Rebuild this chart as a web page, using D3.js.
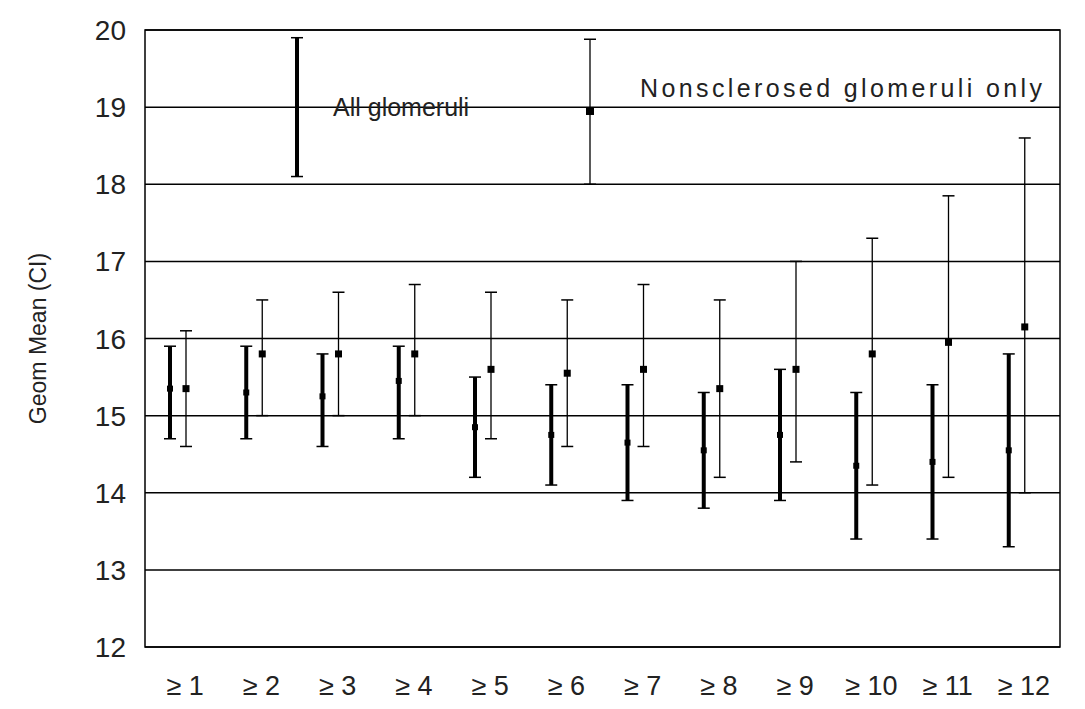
<!DOCTYPE html><html><head><script src="https://d3js.org/d3.v7.min.js"></script>
<style>body{margin:0;background:#fff}text{font-family:"Liberation Sans",Arial,sans-serif;fill:#222}</style></head><body>
<svg id="c" width="1085" height="709"></svg>
<script>
const categories=["≥ 1","≥ 2","≥ 3","≥ 4","≥ 5","≥ 6","≥ 7","≥ 8","≥ 9","≥ 10","≥ 11","≥ 12"];
const allMean=[15.35,15.3,15.25,15.45,14.85,14.75,14.65,14.55,14.75,14.35,14.4,14.55];
const allLow=[14.7,14.7,14.6,14.7,14.2,14.1,13.9,13.8,13.9,13.4,13.4,13.3];
const allHigh=[15.9,15.9,15.8,15.9,15.5,15.4,15.4,15.3,15.6,15.3,15.4,15.8];
const nsMean=[15.35,15.8,15.8,15.8,15.6,15.55,15.6,15.35,15.6,15.8,15.95,16.15];
const nsLow=[14.6,15.0,15.0,15.0,14.7,14.6,14.6,14.2,14.4,14.1,14.2,14.0];
const nsHigh=[16.1,16.5,16.6,16.7,16.6,16.5,16.7,16.5,17.0,17.3,17.85,18.6];
const yTicks=[12,13,14,15,16,17,18,19,20];
const svg=d3.select("#c");
const L=145,R=1060,T=30,B=647;
const y=d3.scaleLinear().domain([12,20]).range([B,T]);
const x=d3.scaleBand().domain(categories).range([L,R]);
svg.selectAll(".g").data(yTicks).join("line").attr("x1",L).attr("x2",R).attr("y1",d=>y(d)).attr("y2",d=>y(d)).attr("stroke","#000").attr("stroke-width",1.5);
svg.append("rect").attr("x",L).attr("y",T).attr("width",R-L).attr("height",B-T).attr("fill","none").attr("stroke","#000").attr("stroke-width",1.5);
svg.selectAll(".yl").data(yTicks).join("text").attr("x",126).attr("y",d=>y(d)+10).attr("text-anchor","end").attr("font-size",28).text(d=>d);
svg.selectAll(".xl").data(categories).join("text").attr("x",d=>x(d)+x.bandwidth()/2+2).attr("y",695).attr("text-anchor","middle").attr("font-size",27).text(d=>d);
svg.append("text").attr("transform","translate(46,"+((T+B)/2)+") rotate(-90)").attr("text-anchor","middle").attr("font-size",23).text("Geom Mean (CI)");
function eb(cx,lo,hi,m,w,cap,sq){
 svg.append("line").attr("x1",cx).attr("x2",cx).attr("y1",y(lo)).attr("y2",y(hi)).attr("stroke","#000").attr("stroke-width",w);
 [lo,hi].forEach(v=>svg.append("line").attr("x1",cx-cap).attr("x2",cx+cap).attr("y1",y(v)).attr("y2",y(v)).attr("stroke","#000").attr("stroke-width",1.5));
 if(m!=null)svg.append("rect").attr("x",cx-sq/2).attr("y",y(m)-sq/2).attr("width",sq).attr("height",sq).attr("fill","#000");
}
categories.forEach((c,i)=>{
 const b=x(c);
 eb(b+25,allLow[i],allHigh[i],allMean[i],4,6,6);
 eb(b+41,nsLow[i],nsHigh[i],nsMean[i],1.3,6,7);
});
eb(297,18.1,19.9,null,4,6,6);
eb(590,18.0,19.88,18.95,1.3,6,8);
svg.append("text").attr("x",333).attr("y",116).attr("font-size",25).text("All glomeruli");
svg.append("text").attr("x",640).attr("y",97).attr("font-size",25).attr("textLength",402).text("Nonsclerosed glomeruli only");
</script></body></html>
